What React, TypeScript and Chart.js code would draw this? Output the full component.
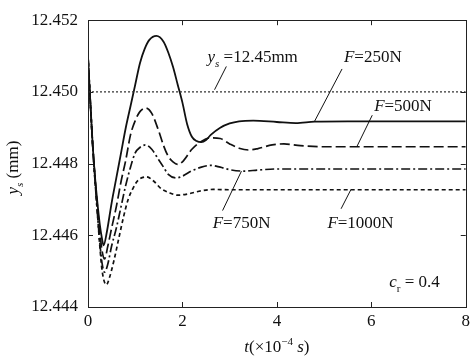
import React, { useEffect, useRef } from 'react';
import { Chart, registerables } from 'chart.js';

Chart.register(...registerables);

const FONT = '"Liberation Serif", "Times New Roman", serif';

// ---- data (t in 1e-4 s, y_s in mm) ----
const tF250 = [0, 0.05, 0.1, 0.15, 0.2, 0.25, 0.3, 0.33, 0.4, 0.5, 0.6, 0.7, 0.8, 0.9, 1.0, 1.1, 1.2, 1.3, 1.45, 1.6, 1.7, 1.8, 1.9, 2.0, 2.1, 2.2, 2.3, 2.4, 2.5, 2.6, 2.8, 3.0, 3.2, 3.5, 4.0, 4.4, 4.8, 5.5, 8];
const yF250 = [12.4510, 12.4497, 12.4485, 12.4476, 12.4469, 12.4463, 12.44588, 12.44572, 12.4461, 12.4469, 12.4476, 12.4483, 12.4490, 12.4496, 12.4502, 12.4508, 12.4512, 12.45145, 12.45156, 12.4514, 12.4511, 12.4507, 12.4502, 12.4497, 12.4491, 12.44875, 12.44863, 12.4486, 12.44866, 12.4488, 12.4490, 12.44912, 12.44918, 12.4492, 12.44916, 12.44913, 12.44917, 12.44918, 12.44918];

const tF500 = [0, 0.05, 0.1, 0.15, 0.2, 0.25, 0.3, 0.35, 0.42, 0.5, 0.6, 0.7, 0.8, 0.9, 1.0, 1.1, 1.22, 1.35, 1.5, 1.6, 1.7, 1.8, 1.9, 2.0, 2.2, 2.4, 2.6, 2.8, 3.0, 3.2, 3.4, 3.6, 3.9, 4.15, 4.5, 5.0, 6.0, 8];
const yF500 = [12.4510, 12.4497, 12.4485, 12.4476, 12.4468, 12.4461, 12.44555, 12.44534, 12.4457, 12.4462, 12.4468, 12.4475, 12.4481, 12.4488, 12.4492, 12.44945, 12.44955, 12.4494, 12.4489, 12.4485, 12.4482, 12.44805, 12.44798, 12.44805, 12.4484, 12.44862, 12.44872, 12.4487, 12.44855, 12.44843, 12.44838, 12.44842, 12.44852, 12.44855, 12.4485, 12.44847, 12.44847, 12.44847];

const tF750 = [0, 0.05, 0.1, 0.15, 0.2, 0.25, 0.3, 0.35, 0.42, 0.5, 0.6, 0.7, 0.8, 0.9, 1.0, 1.1, 1.22, 1.35, 1.5, 1.6, 1.7, 1.87, 2.0, 2.2, 2.4, 2.6, 2.8, 3.0, 3.3, 3.6, 4.0, 8];
const yF750 = [12.4510, 12.4497, 12.4485, 12.4475, 12.4466, 12.4458, 12.4452, 12.44497, 12.4452, 12.4457, 12.4462, 12.4468, 12.4474, 12.4479, 12.4483, 12.44845, 12.44852, 12.4484, 12.4481, 12.4479, 12.4477, 12.4476, 12.44765, 12.4478, 12.4479, 12.44795, 12.4479, 12.44783, 12.44779, 12.44782, 12.44785, 12.44785];

const tF1000 = [0, 0.05, 0.1, 0.15, 0.2, 0.25, 0.3, 0.39, 0.45, 0.55, 0.65, 0.75, 0.85, 0.95, 1.05, 1.24, 1.4, 1.55, 1.7, 1.9, 2.1, 2.4, 2.65, 3.0, 8];
const yF1000 = [12.4510, 12.4497, 12.4485, 12.4475, 12.4466, 12.4457, 12.4450, 12.44462, 12.4448, 12.4453, 12.4459, 12.4465, 12.4470, 12.4473, 12.44752, 12.44763, 12.4475, 12.4473, 12.4472, 12.44712, 12.44715, 12.44724, 12.44728, 12.44727, 12.44727];

const tRef = [0, 8];
const yRef = [12.45, 12.45];

const xTicks = [0, 2, 4, 6, 8];
const yTicks = [12.444, 12.446, 12.448, 12.45, 12.452];

type Seg = { s: string; it?: boolean; sub?: boolean; sup?: boolean };

// annotation text anchors (data coords: t, y_s) — left/baseline
const labels: { t: number; v: number; segs: Seg[] }[] = [
  { t: 2.53, v: 12.45083, segs: [{ s: 'y', it: true }, { s: 's', it: true, sub: true }, { s: ' =12.45mm' }] },
  { t: 5.42, v: 12.45083, segs: [{ s: 'F', it: true }, { s: '=250N' }] },
  { t: 6.06, v: 12.44946, segs: [{ s: 'F', it: true }, { s: '=500N' }] },
  { t: 2.64, v: 12.4462, segs: [{ s: 'F', it: true }, { s: '=750N' }] },
  { t: 5.07, v: 12.4462, segs: [{ s: 'F', it: true }, { s: '=1000N' }] },
  { t: 6.38, v: 12.44456, segs: [{ s: 'c', it: true }, { s: 'r', sub: true }, { s: ' = 0.4' }] },
];
// leader lines (data coords)
const leaders: [number, number, number, number][] = [
  [2.93, 12.45071, 2.68, 12.45006],
  [5.38, 12.45064, 4.79, 12.44916],
  [6.02, 12.44935, 5.7, 12.44849],
  [3.25, 12.44779, 2.85, 12.44669],
  [5.57, 12.44728, 5.36, 12.44674],
];

const FS = 17;

function segFont(g: Seg, size: number) {
  const fs = g.sub || g.sup ? Math.round(size * 0.65) : size;
  return `${g.it ? 'italic ' : ''}${fs}px ${FONT}`;
}
function measureRich(ctx: CanvasRenderingContext2D, segs: Seg[], size: number) {
  let w = 0;
  for (const g of segs) {
    ctx.font = segFont(g, size);
    w += ctx.measureText(g.s).width;
  }
  return w;
}
function drawRich(ctx: CanvasRenderingContext2D, x: number, y: number, segs: Seg[], size: number) {
  let cx = x;
  ctx.textBaseline = 'alphabetic';
  ctx.textAlign = 'left';
  for (const g of segs) {
    ctx.font = segFont(g, size);
    const dy = g.sub ? size * 0.28 : g.sup ? -size * 0.42 : 0;
    ctx.fillText(g.s, cx, y + dy);
    cx += ctx.measureText(g.s).width;
  }
}

const pts = (ts: number[], vs: number[]) => ts.map((t, i) => ({ x: t, y: vs[i] }));

const framePlugin = {
  id: 'frameAndText',
  afterDraw(chart: any) {
    const { ctx, chartArea: a, scales } = chart;
    const xs = scales.x, ys = scales.y;
    ctx.save();
    ctx.strokeStyle = '#222';
    ctx.lineWidth = 1;
    ctx.setLineDash([]);
    ctx.strokeRect(Math.round(a.left) + 0.5, Math.round(a.top) + 0.5, Math.round(a.right - a.left), Math.round(a.bottom - a.top));
    const TL = 5;
    ctx.beginPath();
    for (const t of xTicks) {
      const px = Math.round(xs.getPixelForValue(t)) + 0.5;
      ctx.moveTo(px, a.bottom); ctx.lineTo(px, a.bottom - TL);
      ctx.moveTo(px, a.top); ctx.lineTo(px, a.top + TL);
    }
    for (const v of yTicks) {
      const py = Math.round(ys.getPixelForValue(v)) + 0.5;
      ctx.moveTo(a.left, py); ctx.lineTo(a.left + TL, py);
      ctx.moveTo(a.right, py); ctx.lineTo(a.right - TL, py);
    }
    ctx.stroke();

    // leaders
    ctx.strokeStyle = '#111';
    ctx.lineWidth = 1;
    ctx.beginPath();
    for (const [t1, v1, t2, v2] of leaders) {
      ctx.moveTo(xs.getPixelForValue(t1), ys.getPixelForValue(v1));
      ctx.lineTo(xs.getPixelForValue(t2), ys.getPixelForValue(v2));
    }
    ctx.stroke();

    ctx.fillStyle = '#111';
    for (const l of labels) {
      drawRich(ctx, xs.getPixelForValue(l.t), ys.getPixelForValue(l.v), l.segs, FS);
    }

    // x title
    const xt: Seg[] = [{ s: 't', it: true }, { s: '(×10' }, { s: '−4', sup: true }, { s: ' ' }, { s: 's', it: true }, { s: ')' }];
    const xw = measureRich(ctx, xt, FS);
    drawRich(ctx, (a.left + a.right) / 2 - xw / 2, a.bottom + 45, xt, FS);

    // y title
    const yt: Seg[] = [{ s: 'y', it: true }, { s: 's', it: true, sub: true }, { s: ' (mm)' }];
    const yw = measureRich(ctx, yt, FS);
    ctx.translate(a.left - 70, (a.top + a.bottom) / 2 + 4);
    ctx.rotate(-Math.PI / 2);
    drawRich(ctx, -yw / 2, 0, yt, FS);
    ctx.restore();
  },
};

export default function App() {
  const ref = useRef<HTMLCanvasElement>(null);
  useEffect(() => {
    document.body.style.margin = '0';
    const line = (data: any, dash: number[], w = 1.7, color = '#111') => ({
      data,
      borderColor: color,
      borderWidth: w,
      borderDash: dash,
      pointRadius: 0,
      fill: false,
      cubicInterpolationMode: 'monotone' as const,
    });
    const chart = new Chart(ref.current!, {
      type: 'line',
      data: {
        datasets: [
          line(pts(tRef, yRef), [2, 2], 1.1, '#333'),
          line(pts(tF1000, yF1000), [4, 3]),
          line(pts(tF750, yF750), [9, 3, 2, 3]),
          line(pts(tF500, yF500), [10, 4]),
          line(pts(tF250, yF250), [], 1.8),
        ],
      },
      options: {
        animation: false,
        responsive: false,
        devicePixelRatio: 1,
        layout: { padding: { left: 0, right: 7, top: 9.5, bottom: 0 } },
        plugins: { legend: { display: false }, tooltip: { enabled: false } },
        scales: {
          x: {
            type: 'linear',
            min: 0,
            max: 8,
            afterBuildTicks: (s: any) => { s.ticks = xTicks.map((v) => ({ value: v })); },
            afterFit: (s: any) => { s.height = 52; },
            grid: { display: false, drawTicks: false },
            border: { display: false },
            ticks: { padding: 4, color: '#111', font: { family: FONT, size: FS }, callback: (v: any) => String(v) },
          },
          y: {
            type: 'linear',
            min: 12.444,
            max: 12.452,
            afterBuildTicks: (s: any) => { s.ticks = yTicks.map((v) => ({ value: v })); },
            afterFit: (s: any) => { s.width = 88; },
            grid: { display: false, drawTicks: false },
            border: { display: false },
            ticks: { padding: 10, color: '#111', font: { family: FONT, size: FS }, callback: (v: any) => Number(v).toFixed(3) },
          },
        },
      },
      plugins: [framePlugin],
    });
    return () => chart.destroy();
  }, []);
  return (
    <div style={{ width: 474, height: 359 }}>
      <canvas ref={ref} width={474} height={359} style={{ display: 'block' }} />
    </div>
  );
}
